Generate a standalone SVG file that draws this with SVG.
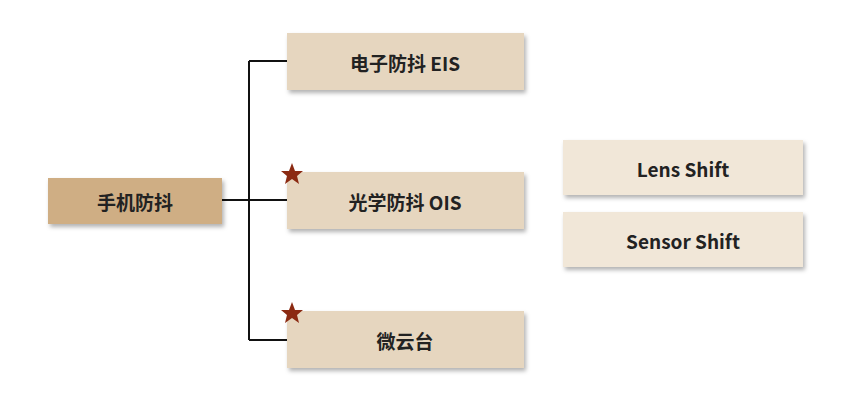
<svg xmlns="http://www.w3.org/2000/svg" width="849" height="411" viewBox="0 0 849 411">
<defs>
<filter id="sh" x="-10%" y="-20%" width="130%" height="160%"><feDropShadow dx="2" dy="3" stdDeviation="2" flood-color="#000" flood-opacity="0.3"/></filter>
<style>
text{font-family:"Noto Sans CJK SC","Liberation Sans",sans-serif;font-weight:bold;font-size:19px;fill:#222;text-anchor:middle;dominant-baseline:central}
.b{fill:#e6d6bf;filter:url(#sh)}
.c{fill:#f1e7d8;filter:url(#sh)}
.s{fill:#8b2a12}
</style>
</defs>
<rect width="849" height="411" fill="#fff"/>
<g id="connectors" stroke="#111" stroke-width="2" fill="none">
<path d="M222 200H287M249 61V340M249 61H287M249 340H287"/>
</g>
<g id="root"><rect x="48" y="178" width="174" height="46" fill="#cfae84" filter="url(#sh)"/><text x="135" y="201">手机防抖</text></g>
<g id="eis"><rect class="b" x="287" y="33" width="237" height="57"/><text x="405" y="62">电子防抖 EIS</text></g>
<g id="ois"><rect class="b" x="287" y="172" width="237" height="57"/><text x="405" y="201">光学防抖 OIS</text>
<polygon class="s" points="292,163 295,171 303,171 297,176 299,184 292,179 285,184 287,176 281,171 289,171"/></g>
<g id="gimbal"><rect class="b" x="287" y="311" width="237" height="57"/><text x="405" y="340">微云台</text>
<polygon class="s" points="292,302 295,310 303,310 297,315 299,323 292,318 285,323 287,315 281,310 289,310"/></g>
<g id="lens"><rect class="c" x="563" y="140" width="240" height="55"/><text x="683" y="168">Lens Shift</text></g>
<g id="sensor"><rect class="c" x="563" y="212" width="240" height="55"/><text x="683" y="240">Sensor Shift</text></g>
</svg>
